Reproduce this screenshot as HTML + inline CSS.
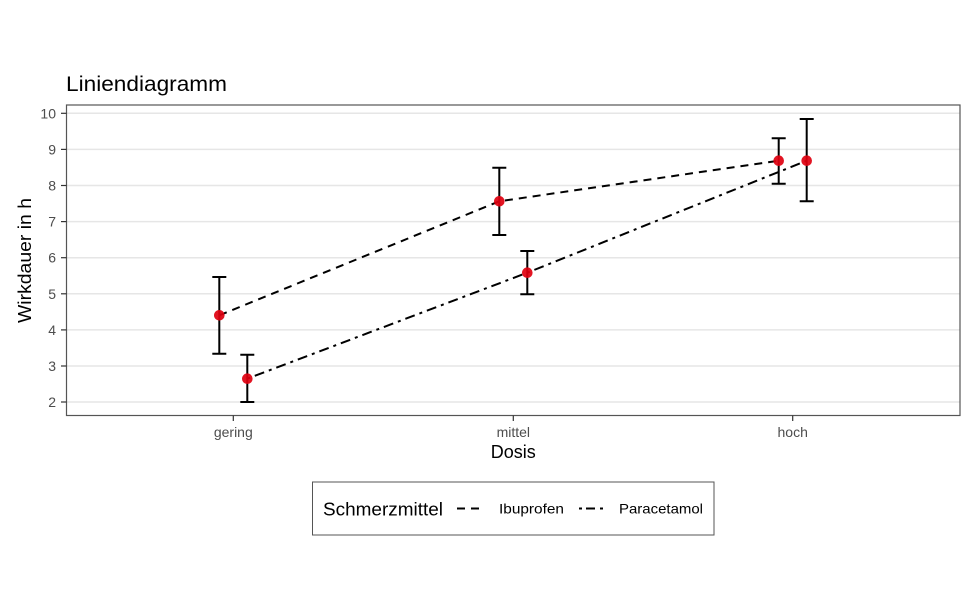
<!DOCTYPE html>
<html><head><meta charset="utf-8"><style>
html,body{margin:0;padding:0;background:#fff;}
svg{display:block;}
text{font-family:"Liberation Sans",sans-serif;}
</style></head><body>
<svg width="980" height="611" viewBox="0 0 980 611" xmlns="http://www.w3.org/2000/svg">
<rect width="980" height="611" fill="#fff"/>
<!-- title -->
<text x="66" y="91" font-size="21" fill="#000" textLength="161" lengthAdjust="spacingAndGlyphs">Liniendiagramm</text>
<!-- gridlines -->
<g stroke="#e6e6e6" stroke-width="1.5">
<line x1="66.5" x2="960" y1="113.3" y2="113.3"/>
<line x1="66.5" x2="960" y1="149.4" y2="149.4"/>
<line x1="66.5" x2="960" y1="185.5" y2="185.5"/>
<line x1="66.5" x2="960" y1="221.6" y2="221.6"/>
<line x1="66.5" x2="960" y1="257.7" y2="257.7"/>
<line x1="66.5" x2="960" y1="293.8" y2="293.8"/>
<line x1="66.5" x2="960" y1="329.9" y2="329.9"/>
<line x1="66.5" x2="960" y1="366.0" y2="366.0"/>
<line x1="66.5" x2="960" y1="402.0" y2="402.0"/>
</g>
<!-- panel border -->
<rect x="66.5" y="105" width="893.5" height="310.5" fill="none" stroke="#555" stroke-width="1.2"/>
<!-- y ticks -->
<g stroke="#333" stroke-width="1.2">
<line x1="61" x2="66.5" y1="113.3" y2="113.3"/>
<line x1="61" x2="66.5" y1="149.4" y2="149.4"/>
<line x1="61" x2="66.5" y1="185.5" y2="185.5"/>
<line x1="61" x2="66.5" y1="221.6" y2="221.6"/>
<line x1="61" x2="66.5" y1="257.7" y2="257.7"/>
<line x1="61" x2="66.5" y1="293.8" y2="293.8"/>
<line x1="61" x2="66.5" y1="329.9" y2="329.9"/>
<line x1="61" x2="66.5" y1="366.0" y2="366.0"/>
<line x1="61" x2="66.5" y1="402.0" y2="402.0"/>
<line x1="233.3" x2="233.3" y1="415.5" y2="421"/>
<line x1="513.3" x2="513.3" y1="415.5" y2="421"/>
<line x1="792.7" x2="792.7" y1="415.5" y2="421"/>
</g>
<g font-size="14" fill="#4d4d4d" text-anchor="end">
<text x="56" y="118.3">10</text>
<text x="56" y="154.4">9</text>
<text x="56" y="190.5">8</text>
<text x="56" y="226.6">7</text>
<text x="56" y="262.7">6</text>
<text x="56" y="298.8">5</text>
<text x="56" y="334.9">4</text>
<text x="56" y="371.0">3</text>
<text x="56" y="407.0">2</text>
</g>
<g font-size="14" fill="#4d4d4d" text-anchor="middle">
<text x="233.3" y="437">gering</text>
<text x="513.3" y="437">mittel</text>
<text x="792.7" y="437">hoch</text>
</g>
<text x="513.3" y="458" font-size="18" fill="#000" text-anchor="middle">Dosis</text>
<text transform="translate(31,260.5) rotate(-90)" font-size="18" fill="#000" text-anchor="middle" textLength="125" lengthAdjust="spacingAndGlyphs">Wirkdauer in h</text>
<!-- lines -->
<polyline points="219.3,315.3 499.3,201.3 778.7,160.7" fill="none" stroke="#000" stroke-width="2" stroke-dasharray="8,6"/>
<polyline points="247.3,378.7 527.3,272.7 806.7,160.7" fill="none" stroke="#000" stroke-width="2" stroke-dasharray="3,5,10,5"/>
<!-- error bars -->
<g stroke="#000" stroke-width="2" fill="none">
<path d="M219.3,277 V353.7 M212.3,277 H226.3 M212.3,353.7 H226.3"/>
<path d="M247.3,354.7 V402 M240.3,354.7 H254.3 M240.3,402 H254.3"/>
<path d="M499.3,167.7 V235 M492.3,167.7 H506.3 M492.3,235 H506.3"/>
<path d="M527.3,251 V294.3 M520.3,251 H534.3 M520.3,294.3 H534.3"/>
<path d="M778.7,138.3 V183.7 M771.7,138.3 H785.7 M771.7,183.7 H785.7"/>
<path d="M806.7,119 V201.3 M799.7,119 H813.7 M799.7,201.3 H813.7"/>
</g>
<!-- points -->
<g fill="#e0000f" fill-opacity="0.92">
<circle cx="219.3" cy="315.3" r="5.3"/>
<circle cx="247.3" cy="378.7" r="5.3"/>
<circle cx="499.3" cy="201.3" r="5.3"/>
<circle cx="527.3" cy="272.7" r="5.3"/>
<circle cx="778.7" cy="160.7" r="5.3"/>
<circle cx="806.7" cy="160.7" r="5.3"/>
</g>
<!-- legend -->
<rect x="312.5" y="482" width="401.5" height="53" fill="#fff" stroke="#555" stroke-width="1"/>
<text x="323" y="515.5" font-size="18" fill="#000" textLength="120" lengthAdjust="spacingAndGlyphs">Schmerzmittel</text>
<line x1="457" x2="482" y1="508.5" y2="508.5" stroke="#000" stroke-width="2" stroke-dasharray="8,6"/>
<text x="499" y="513.5" font-size="14" fill="#000" textLength="65" lengthAdjust="spacingAndGlyphs">Ibuprofen</text>
<line x1="579" x2="603" y1="508.5" y2="508.5" stroke="#000" stroke-width="2" stroke-dasharray="3,4,9,5"/>
<text x="619" y="513.5" font-size="14" fill="#000" textLength="84" lengthAdjust="spacingAndGlyphs">Paracetamol</text>
</svg>
</body></html>
